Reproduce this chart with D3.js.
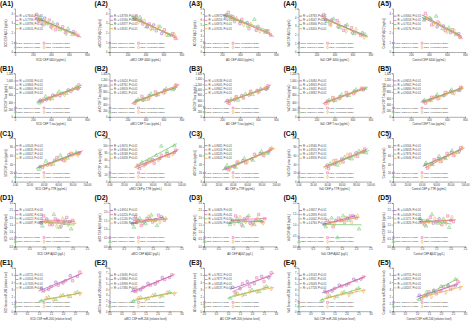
<!DOCTYPE html>
<html>
<head>
<meta charset="utf-8">
<script src="https://cdn.jsdelivr.net/npm/d3@7"></script>
<style>
  body { margin: 0; background: #fff; }
  svg { display: block; font-family: "Liberation Sans", Arial, sans-serif; }
  .axis path, .axis line { stroke: #333; stroke-width: 0.4; }
  .axis text { font-size: 2.6px; fill: #333; }
</style>
</head>
<body>
<svg id="chart" width="474" height="326"></svg>
<script>
// column groups and row measures
var groups = ['SCD', 'aMCI', 'AD', 'VaD', 'Control'];
var rows = ['A', 'B', 'C', 'D', 'E'];
var xNames = ['CEP 4400 (pg/mL)', 'CEP T-tau (pg/mL)', 'CEP p-TTR (pg/mL)', 'CEP Aβ42 (pg/L)', 'CSF miR-206 (relative level)'];
var yNames = ['CSF Aβ42 (ng/mL)', 'CSF T-tau (pg/mL)', 'CSF p-tau (pg/mL)', 'CSF Aβ40 (ng/mL)', 'Serum miR-206 (relative level)'];
var seriesNames = ['FDC, discovery stage', 'FDC, verification stage', 'NDC, discovery stage', 'NDC, verification stage'];
var seriesColors = ['#9a5cc0', '#e96a9e', '#68c466', '#eaa94a'];

var xMax = [800, 800, 100, 2.5, 3];
var xTickFormats = ['d', 'd', '.2f', '.1f', '.1f'];
var yMax = [
    [4.5, 4.5, 8, 5, 4.5],
    [1200, 1400, 1600, 1200, 1400],
    [100, 120, 100, 100, 100],
    [3, 2.5, 3, 2, 3],
    [6, 8, 6, 8, 6]
];

// points[row][col][series] = [[x, y], ...]
var rowA = [
    [[[260,3.2],[330,3.5],[400,2.6],[470,2.9],[560,2.0],[650,2.1]],
     [[240,3.9],[310,2.8],[380,3.3],[450,2.3],[530,2.6],[700,1.7]],
     [[280,3.6],[350,2.9],[420,3.0],[500,2.3],[590,2.4],[640,1.8]],
     [[270,3.3],[340,3.1],[410,2.5],[480,2.6],[570,1.9],[680,1.9]]],
    [[[280,3.4],[350,3.3],[420,2.6],[490,2.8],[580,1.9],[700,1.9]],
     [[300,3.7],[370,2.9],[440,2.9],[520,2.2],[610,2.3],[730,1.4]],
     [[270,3.5],[340,3.6],[410,2.6],[480,2.4],[560,2.6],[660,1.7]],
     [[320,3.1],[390,3.2],[460,2.4],[540,2.6],[630,1.8],[720,1.8]]],
    [[[240,6.5],[320,6.5],[400,5.2],[480,5.4],[580,4.0],[700,3.9]],
     [[270,7.3],[340,5.6],[420,6.0],[500,4.3],[600,4.7],[740,3.1]],
     [[250,6.8],[330,6.0],[410,5.6],[490,4.8],[560,6.0],[680,3.6]],
     [[290,6.3],[360,6.2],[440,5.0],[520,5.1],[620,3.8],[720,3.8]]],
    [[[300,3.7],[370,3.7],[440,2.9],[520,3.0],[600,2.2],[710,2.2]],
     [[280,4.3],[350,3.2],[430,3.6],[500,2.5],[590,2.8],[690,1.9]],
     [[320,3.5],[390,3.8],[460,2.8],[540,3.1],[620,2.1],[740,2.0]],
     [[290,4.0],[360,3.1],[450,3.3],[530,2.4],[640,2.6],[730,1.7]]],
    [[[350,3.4],[420,3.4],[490,2.6],[560,2.7],[640,2.0],[730,1.9]],
     [[360,4.0],[430,2.8],[500,3.1],[580,2.2],[660,2.3],[745,1.5]],
     [[345,3.3],[410,3.5],[480,3.7],[550,2.4],[620,2.5],[700,1.8]],
     [[380,3.6],[450,2.9],[520,2.9],[600,2.1],[680,2.2],[740,1.6]]]
];
var rowB = [
    [[[280,460],[350,470],[420,600],[500,580],[590,740],[700,770]],
     [[300,420],[380,520],[450,580],[530,650],[620,700],[710,880]],
     [[270,380],[340,560],[410,500],[490,690],[570,650],[680,820]],
     [[310,470],[390,490],[470,620],[550,610],[640,760],[690,790]]],
    [[[300,520],[370,530],[440,680],[520,690],[610,860],[720,900]],
     [[280,430],[360,660],[430,570],[510,800],[600,770],[740,1020]],
     [[320,560],[390,550],[460,740],[540,710],[630,900],[700,870]],
     [[290,470],[380,580],[450,630],[530,740],[620,800],[730,1000]]],
    [[[260,600],[340,620],[420,780],[500,800],[590,970],[690,1010]],
     [[280,490],[360,740],[440,690],[520,940],[610,920],[710,1140]],
     [[300,640],[380,610],[460,840],[540,820],[630,1030],[700,1040]],
     [[270,550],[350,710],[430,730],[510,880],[600,900],[680,1060]]],
    [[[320,430],[390,440],[460,560],[540,580],[620,710],[720,740]],
     [[300,360],[380,530],[450,500],[530,670],[610,640],[700,790]],
     [[340,460],[410,450],[480,610],[560,590],[640,750],[740,780]],
     [[330,390],[400,500],[470,530],[550,620],[630,670],[710,770]]],
    [[[340,510],[410,540],[480,650],[560,680],[640,820],[740,860]],
     [[360,440],[430,630],[500,580],[580,790],[660,770],[750,950]],
     [[350,530],[420,520],[490,710],[570,700],[650,870],[730,840]],
     [[380,500],[450,610],[520,620],[600,760],[680,760],[760,930]]]
];
var rowC = [
    [[[35,35],[45,38],[55,49],[65,51],[75,62],[88,64]],
     [[38,32],[48,41],[58,55],[68,48],[78,65],[90,66]],
     [[33,28],[43,47],[53,40],[63,60],[73,54],[85,67]],
     [[40,37],[50,39],[60,51],[70,50],[80,63],[87,61]]],
    [[[40,45],[50,48],[60,61],[70,64],[80,77],[90,80]],
     [[42,36],[52,55],[62,51],[72,73],[82,70],[92,87]],
     [[45,53],[55,60],[65,72],[72,98],[80,83],[90,99]],
     [[38,43],[48,44],[58,59],[68,60],[78,73],[88,76]]],
    [[[30,31],[42,34],[54,48],[66,52],[78,65],[90,68]],
     [[34,27],[46,45],[58,43],[70,63],[82,61],[92,75]],
     [[32,37],[44,33],[56,53],[68,49],[80,69],[88,65]],
     [[36,29],[48,43],[60,45],[72,59],[84,60],[94,77]]],
    [[[40,38],[50,40],[60,52],[70,54],[80,66],[90,68]],
     [[42,30],[52,49],[62,45],[72,63],[82,58],[92,75]],
     [[44,41],[54,38],[64,56],[74,52],[84,70],[94,66]],
     [[38,33],[48,47],[58,44],[68,61],[78,59],[88,69]]],
    [[[45,39],[54,41],[63,53],[72,55],[81,67],[92,70]],
     [[48,31],[57,50],[66,46],[75,65],[84,60],[94,78]],
     [[46,43],[55,39],[64,58],[73,53],[82,71],[90,67]],
     [[50,35],[59,48],[68,48],[77,61],[86,62],[96,77]]]
];
var rowD = [
    [[[0.9,1.6],[1.1,1.9],[1.3,1.5],[1.5,1.8],[1.7,1.6],[1.9,1.7]],
     [[1.0,2.1],[1.2,1.5],[1.4,1.9],[1.6,1.4],[1.8,2.0],[2.0,1.8]],
     [[0.95,1.4],[1.15,1.7],[1.35,2.2],[1.55,1.3],[1.75,1.8],[1.95,1.2]],
     [[1.05,1.7],[1.25,1.6],[1.45,1.4],[1.65,1.9],[1.85,1.5],[2.05,1.6]]],
    [[[0.8,1.3],[1.0,1.5],[1.2,1.4],[1.4,1.6],[1.6,1.5],[1.8,1.7]],
     [[0.9,1.7],[1.1,1.2],[1.3,1.6],[1.5,1.4],[1.7,1.8],[1.9,1.5]],
     [[0.85,1.1],[1.05,1.6],[1.25,1.3],[1.45,1.8],[1.65,1.2],[1.85,1.6]],
     [[0.95,1.4],[1.15,1.3],[1.35,1.7],[1.55,1.5],[1.75,1.4],[1.95,1.6]]],
    [[[1.0,1.8],[1.2,1.7],[1.4,1.9],[1.6,1.6],[1.8,1.8],[2.0,1.7]],
     [[1.1,2.1],[1.3,1.5],[1.5,2.0],[1.7,1.6],[1.9,2.2],[2.1,1.9]],
     [[0.9,1.5],[1.15,1.9],[1.35,1.4],[1.55,2.1],[1.75,1.5],[1.95,1.8]],
     [[1.05,1.6],[1.25,2.0],[1.45,1.7],[1.65,1.5],[1.85,1.9],[2.05,1.6]]],
    [[[0.9,1.0],[1.1,1.1],[1.3,1.2],[1.5,1.2],[1.7,1.3],[1.9,1.4]],
     [[1.0,1.2],[1.2,0.9],[1.4,1.3],[1.6,1.1],[1.8,1.4],[2.0,1.3]],
     [[0.95,0.9],[1.15,1.3],[1.35,0.4],[1.55,1.4],[1.75,1.2],[2.1,0.8]],
     [[1.05,1.1],[1.25,1.0],[1.45,1.2],[1.65,1.3],[1.85,1.1],[2.05,1.4]]],
    [[[1.0,1.7],[1.2,1.8],[1.4,1.6],[1.6,1.9],[1.8,1.7],[2.0,1.8]],
     [[1.1,1.5],[1.3,2.0],[1.5,1.7],[1.7,1.5],[1.9,2.1],[2.1,1.7]],
     [[0.95,1.9],[1.15,1.4],[1.35,2.2],[1.55,1.6],[1.75,1.9],[1.95,1.3]],
     [[1.05,1.6],[1.25,1.7],[1.45,1.9],[1.65,1.6],[1.85,1.6],[2.05,2.0]]]
];
var rowE = [
    [[[1.1,3.1],[1.4,3.0],[1.7,4.0],[2.0,3.9],[2.3,4.9],[2.6,4.8]],
     [[1.2,2.8],[1.5,3.4],[1.8,3.6],[2.1,4.2],[2.4,4.2],[2.7,5.4]],
     [[1.1,1.4],[1.4,1.9],[1.7,1.6],[2.0,2.2],[2.3,2.0],[2.6,2.6]],
     [[1.3,1.8],[1.6,1.6],[1.9,2.1],[2.2,2.1],[2.5,2.5],[2.7,2.4]]],
    [[[1.0,3.9],[1.3,3.9],[1.6,5.1],[1.9,5.0],[2.2,6.2],[2.5,6.2]],
     [[1.1,3.6],[1.4,4.4],[1.7,4.8],[2.0,5.4],[2.3,5.8],[2.6,6.7]],
     [[1.0,1.8],[1.3,2.5],[1.6,2.3],[1.9,3.0],[2.2,2.8],[2.5,3.5]],
     [[1.2,2.4],[1.5,2.2],[1.8,2.9],[2.1,2.7],[2.4,3.4],[2.7,3.2]]],
    [[[1.2,3.3],[1.5,3.1],[1.8,4.1],[2.1,3.8],[2.4,4.8],[2.7,4.6]],
     [[1.3,2.6],[1.6,3.8],[1.9,3.4],[2.2,4.6],[2.5,4.1],[2.8,5.3]],
     [[1.1,1.8],[1.4,2.4],[1.7,2.3],[2.0,2.9],[2.3,2.7],[2.6,3.4]],
     [[1.3,2.3],[1.6,2.2],[1.9,2.7],[2.2,2.7],[2.5,3.2],[2.8,3.1]]],
    [[[1.1,3.7],[1.4,3.7],[1.7,4.8],[2.0,4.8],[2.3,5.9],[2.6,5.9]],
     [[1.2,3.4],[1.5,4.2],[1.8,4.6],[2.1,5.1],[2.4,5.6],[2.7,6.3]],
     [[1.0,2.0],[1.3,2.8],[1.6,2.7],[1.9,3.5],[2.2,3.4],[2.5,4.2]],
     [[1.2,2.6],[1.5,2.5],[1.8,3.3],[2.1,3.0],[2.4,3.9],[2.7,3.7]]],
    [[[1.1,2.2],[1.4,2.1],[1.7,2.9],[2.0,2.8],[2.3,3.5],[2.6,3.5]],
     [[1.2,1.7],[1.5,2.7],[1.8,2.4],[2.1,3.4],[2.4,3.0],[2.7,4.1]],
     [[1.1,1.6],[1.4,2.6],[1.7,2.7],[2.0,3.4],[2.3,3.6],[2.6,4.4]],
     [[1.3,2.1],[1.6,2.0],[1.9,2.8],[2.2,2.6],[2.5,3.3],[2.8,3.2]]]
];
var points = [rowA, rowB, rowC, rowD, rowE];

var svg = d3.select('#chart');
var panelW = 94.5;
var panelH = 64.8;
var plotL = 15, plotR = 87, plotT = 8.5, plotB = 52;
var symbols = [d3.symbolCircle, d3.symbolSquare, d3.symbolTriangle, d3.symbolDiamond];

// least squares fit, returns slope, intercept, r2
function fit(ds) {
    var mx = d3.mean(ds, function (d) { return d[0]; });
    var my = d3.mean(ds, function (d) { return d[1]; });
    var sxy = 0, sxx = 0, syy = 0;
    ds.forEach(function (d) {
        sxy += (d[0] - mx) * (d[1] - my);
        sxx += (d[0] - mx) * (d[0] - mx);
        syy += (d[1] - my) * (d[1] - my);
    });
    var b = sxy / sxx;
    return { b: b, a: my - b * mx, r2: (sxy * sxy) / (sxx * syy) };
}

rows.forEach(function (row, ri) {
    groups.forEach(function (grp, ci) {
        var g = svg.append('g')
            .attr('transform', 'translate(' + (ci * panelW) + ',' + (ri * panelH) + ')');
        var x = d3.scaleLinear().domain([0, xMax[ri]]).range([plotL, plotR]);
        var y = d3.scaleLinear().domain([0, yMax[ri][ci]]).range([plotB, plotT]);

        g.append('g').attr('class', 'axis')
            .attr('transform', 'translate(0,' + plotB + ')')
            .call(d3.axisBottom(x).ticks(5).tickSize(1.2).tickPadding(1).tickFormat(d3.format(xTickFormats[ri])));
        g.append('g').attr('class', 'axis')
            .attr('transform', 'translate(' + plotL + ',0)')
            .call(d3.axisLeft(y).ticks(6).tickSize(1.2).tickPadding(0.8));

        g.append('text')
            .attr('x', (plotL + plotR) / 2).attr('y', plotB + 8.5)
            .attr('text-anchor', 'middle').attr('font-size', 2.8).attr('fill', '#333')
            .text(grp + ' ' + xNames[ri]);
        g.append('text')
            .attr('transform', 'translate(6.5,' + ((plotT + plotB) / 2 + 3) + ') rotate(-90)')
            .attr('text-anchor', 'middle').attr('font-size', 2.6).attr('fill', '#333')
            .text(grp + ' ' + yNames[ri]);

        var data = points[ri][ci];
        data.forEach(function (ds, si) {
            var f = fit(ds);
            var ext = d3.extent(ds, function (d) { return d[0]; });
            var x0 = ext[0] - (ext[1] - ext[0]) * 0.08;
            var x1 = ext[1] + (ext[1] - ext[0]) * 0.08;
            g.append('line')
                .attr('x1', x(x0)).attr('y1', y(f.a + f.b * x0))
                .attr('x2', x(x1)).attr('y2', y(f.a + f.b * x1))
                .attr('stroke', seriesColors[si]).attr('stroke-width', 0.7);
            g.selectAll('.pt' + si)
                .data(ds)
                .enter()
                .append('path')
                .attr('d', d3.symbol().type(symbols[si]).size(6))
                .attr('transform', function (d) { return 'translate(' + x(d[0]) + ',' + y(d[1]) + ')'; })
                .attr('fill', seriesColors[si]).attr('fill-opacity', 0.2)
                .attr('stroke', seriesColors[si]).attr('stroke-width', 0.45);

            // R2 legend
            var ly = 17 + si * 4.2;
            g.append('line')
                .attr('x1', 15.5).attr('x2', 18.5).attr('y1', ly - 0.9).attr('y2', ly - 0.9)
                .attr('stroke', seriesColors[si]).attr('stroke-width', 0.8);
            g.append('text')
                .attr('x', 19.5).attr('y', ly).attr('font-size', 2.6).attr('fill', '#444')
                .text('R² = ' + f.r2.toFixed(4) + ', ' + (f.r2 > 0.4 ? 'P<0.01' : 'P>0.05'));

            // stage legend
            var lx = si % 2 === 0 ? 15.5 : 44;
            var sy = si < 2 ? 44 : 48;
            g.append('path')
                .attr('d', d3.symbol().type(symbols[si]).size(4))
                .attr('transform', 'translate(' + lx + ',' + (sy - 0.8) + ')')
                .attr('fill', seriesColors[si]).attr('fill-opacity', 0.2)
                .attr('stroke', seriesColors[si]).attr('stroke-width', 0.45);
            g.append('text')
                .attr('x', lx + 1.8).attr('y', sy).attr('font-size', 2.4).attr('fill', '#444')
                .text(seriesNames[si]);
        });

        g.append('text')
            .attr('x', 0).attr('y', 6)
            .attr('font-size', 6.8).attr('font-weight', 'bold').attr('fill', '#111')
            .text('(' + row + (ci + 1) + ')');
    });
});
</script>
</body>
</html>
